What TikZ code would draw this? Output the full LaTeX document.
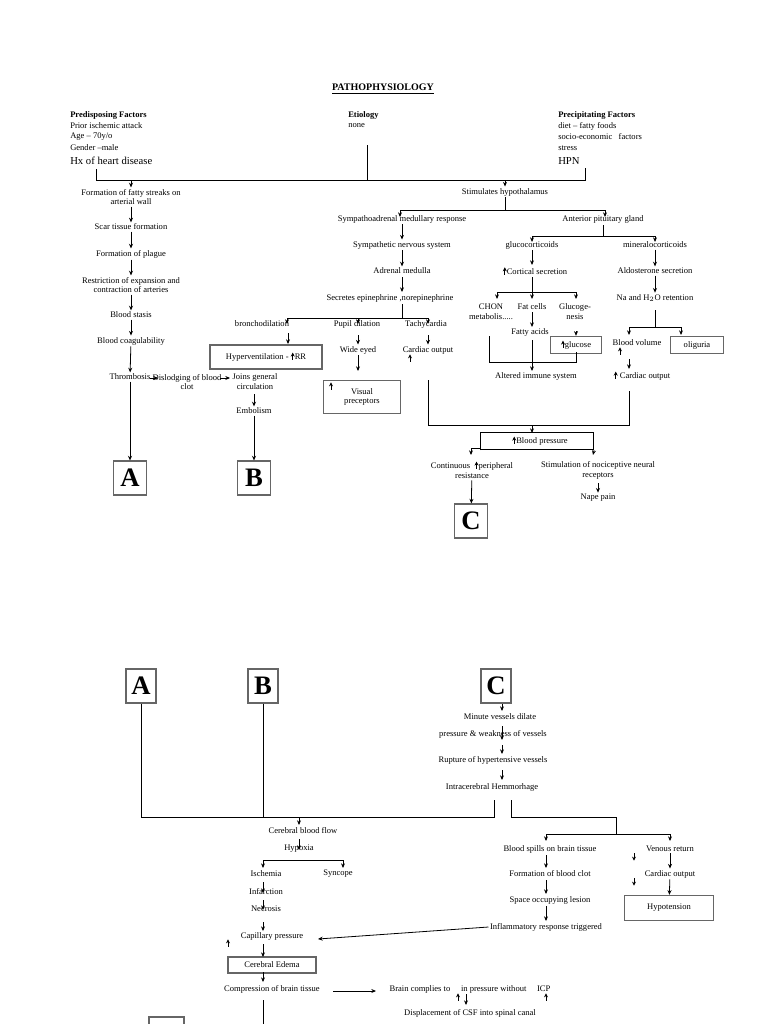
\documentclass[tikz,border=0pt]{standalone}
\usepackage{fontspec}
\setmainfont{Liberation Serif}
\usetikzlibrary{arrows.meta}
\newcommand\upa{\tikz[baseline=0pt]\draw[line width=0.6pt,-{Stealth[length=3pt,width=3pt]}] (0,0)--(0,5.5pt);}
\newcommand\dna{\tikz[baseline=0pt]\draw[line width=0.6pt,-{Stealth[length=3pt,width=3pt]}] (0,5.5pt)--(0,0);}
\begin{document}
\begin{tikzpicture}[x=0.75pt,y=-0.75pt,
  t/.style={font=\fontsize{6.4}{7.4}\selectfont,inner sep=1pt,align=center},
  lt/.style={font=\fontsize{6.4}{7.4}\selectfont,inner sep=0pt,align=left,anchor=west},
  bx/.style={draw=black!60,line width=0.8pt,inner sep=2pt,font=\fontsize{6.4}{7.4}\selectfont,align=center},
  big/.style={draw=black!60,line width=0.8pt,minimum width=33pt*0.75,minimum height=34pt*0.75,inner sep=0pt,font=\fontsize{20}{22}\bfseries\selectfont},
  ln/.style={line width=0.6pt},
  ar/.style={line width=0.6pt,-{Stealth[length=3.5pt,width=3pt]}}]
\useasboundingbox (0,0) rectangle (768,1024);
\fill[white] (0,0) rectangle (768,1024);
% title
\node[font=\fontsize{7.5}{9}\bfseries\selectfont] (title) at (383,89) {\underline{PATHOPHYSIOLOGY}};
% factors
\node[lt,font=\fontsize{6.4}{7.4}\bfseries\selectfont] (pf) at (70,115) {Predisposing Factors};
\node[lt] (pf1) at (70,126) {Prior ischemic attack};
\node[lt] (pf2) at (70,137) {Age -- 70y/o};
\node[lt] (pf3) at (70,148) {Gender --male};
\node[lt,font=\fontsize{8}{9}\selectfont] (pf4) at (70,161) {Hx of heart disease};
\node[lt,font=\fontsize{6.4}{7.4}\bfseries\selectfont] (et) at (348,115) {Etiology};
\node[lt] (et1) at (348,126) {none};
\node[lt,font=\fontsize{6.4}{7.4}\bfseries\selectfont] (pr) at (558,115) {Precipitating Factors};
\node[lt] (pr1) at (558,126) {diet -- fatty foods};
\node[lt] (pr2) at (558,137) {socio-economic \ \ factors};
\node[lt] (pr3) at (558,148) {stress};
\node[lt,font=\fontsize{8}{9}\selectfont] (pr4) at (558,161) {HPN};
\coordinate (j1) at (96,180); \coordinate (j2) at (585,180);
\draw[ln] (96,169) -- (j1) -- (j2) -- (585,168);
\draw[ln] (367,145) -- (367,180);
% left column
\node[t] (fs) at (131,197) {Formation of fatty streaks on\\arterial wall};
\node[t] (st) at (131,227) {Scar tissue formation};
\node[t] (fp) at (131,254) {Formation of plague};
\node[t] (re) at (131,285) {Restriction of expansion and\\contraction of arteries};
\node[t] (bs) at (131,315) {Blood stasis};
\node[t] (bc) at (131,341) {Blood coagulability};
\node[t] (th) at (130,377) {Thrombosis};
\node[t] (dl) at (187,382) {Dislodging of blood\\clot};
\node[t] (jg) at (255,382) {Joins general\\circulation};
\node[t] (em) at (254,411) {Embolism};
\node[big] (A) at (130,478) {A};
\node[big] (B) at (254,478) {B};
\draw[ar] (131,180) -- (fs);
\draw[ar] (fs) -- (st); \draw[ar] (st) -- (fp); \draw[ar] (fp) -- (re);
\draw[ar] (re) -- (bs); \draw[ar] (bs) -- (bc); \draw[ar] (bc) -- (th);
\draw[ar] (150,378) -- (158,378);
\draw[ar] (220,378) -- (230,378);
\draw[ar] (254,394) -- (em);
\draw[ar] (th) -- (A);
\draw[ar] (em) -- (B);
% hypothalamus
\node[t] (hy) at (505,192) {Stimulates hypothalamus};
\draw[ar] (505,180) -- (hy);
\node[t] (sa) at (402,219) {Sympathoadrenal medullary response};
\node[t] (ap) at (603,219) {Anterior pituitary gland};
\draw[ln] (hy) -- (505,210);
\draw[ar] (400,210) -- (400,217);
\draw[ar] (605,210) -- (605,217);
\draw[ln] (400,210) -- (605,210);
\node[t] (sn) at (402,245) {Sympathetic nervous system};
\node[t] (am) at (402,271) {Adrenal medulla};
\node[t] (se) at (390,298) {Secretes epinephrine ,norepinephrine};
\draw[ar] (sa) -- (sn); \draw[ar] (sn) -- (am); \draw[ar] (402,277) -- (402,292);
\draw[ln] (402,304) -- (402,318);
\draw[ln] (287,318) -- (428,318);
\node[t] (br) at (262,324) {bronchodilation};
\node[t] (pu) at (357,324) {Pupil dilation};
\node[t] (ta) at (426,324) {Tachycardia};
\draw[ar] (287,318) -- (287,324); \draw[ar] (358,318) -- (358,324); \draw[ar] (428,318) -- (428,324);
\node[bx,minimum width=84pt,minimum height=18pt] (hv) at (266,357) {Hyperventilation - \upa RR};
\draw[ar] (288,333) -- (288,344);
\node[t] (we) at (358,350) {Wide eyed};
\draw[ar] (358,335) -- (we);
\node[bx,minimum width=58pt,minimum height=25pt] (vp) at (362,397) {Visual\\preceptors};
\node[t] at (331,386) {\upa};
\draw[ar] (we) -- (358,371);
\node[t] (co1) at (428,350) {Cardiac output};
\draw[ar] (428,335) -- (co1);
\node[t] at (410,358) {\upa};
% anterior pituitary
\draw[ln] (603,225) -- (603,236);
\draw[ln] (532,236) -- (655,236);
\draw[ar] (532,236) -- (532,242); \draw[ar] (655,236) -- (655,242);
\node[t] (gl) at (532,245) {glucocorticoids};
\node[t] (mi) at (655,245) {mineralocorticoids};
\node[t] (cs) at (535,271) {\upa Cortical secretion};
\node[t] (as) at (655,271) {Aldosterone secretion};
\node[t] (na) at (655,298) {Na and H$_2$O retention};
\draw[ar] (532,250) -- (532,265); \draw[ar] (mi) -- (as); \draw[ar] (as) -- (na);
\draw[ln] (532,277) -- (532,292);
\draw[ln] (497,292) -- (576,292);
\draw[ar] (497,292) -- (497,299); \draw[ar] (532,292) -- (532,299); \draw[ar] (576,292) -- (576,299);
\node[t] (ch) at (491,312) {CHON\\metabolis.....};
\node[t] (fc) at (532,307) {Fat cells};
\node[t] (gn) at (575,312) {Glucoge-\\nesis};
\node[t] (fa) at (530,332) {Fatty acids};
\draw[ar] (532,312) -- (532,327);
\node[bx,minimum width=38pt,minimum height=13pt] (gc) at (576,345) {\upa glucose};
\draw[ar] (576,331) -- (gc);
\draw[ln] (489,336) -- (489,362) -- (576,362) -- (576,352);
\node[t] (ai) at (536,376) {Altered immune system};
\draw[ln] (532,340) -- (532,362);
\draw[ar] (532,362) -- (532,371);
\draw[ln] (655,310) -- (655,327);
\draw[ln] (629,327) -- (681,327);
\draw[ar] (629,327) -- (629,335); \draw[ar] (681,327) -- (681,335);
\node[t] (bv) at (637,343) {Blood volume};
\node[bx,minimum width=40pt,minimum height=13pt] (ol) at (697,345) {oliguria};
\node[t] at (620,351) {\upa};
\node[t] (co2) at (642,376) {\upa\ Cardiac output};
\draw[ar] (629,359) -- (629,369);
% blood pressure
\draw[ln] (428,380) -- (428,425) -- (629,425) -- (629,391);
\draw[ar] (532,425) -- (532,433);
\node[draw=black,line width=0.6pt,minimum width=85pt,minimum height=13pt,inner sep=0pt] (bp) at (537,441) {};
\node[t] at (540,441) {\upa Blood pressure};
\draw[ar] (bp.south west) -- (bp.south west |- 0,448) -- (471,448) -- (471,455);
\draw[ar] (bp.south east) -- (593,455);
\node[t] (cp) at (472,470) {Continuous \ \upa peripheral\\resistance};
\node[t] (sn2) at (598,470) {Stimulation of nociceptive neural\\receptors};
\node[t] (np) at (598,498) {Nape pain};
\draw[ar] (598,483) -- (np);
\node[big] (C) at (471,521) {C};
\draw[ar] (cp) -- (C);
% ===== bottom =====
\node[big,minimum width=30pt*0.75] (A2) at (141,686) {A};
\node[big,minimum width=30pt*0.75] (B2) at (263,686) {B};
\node[big,minimum width=30pt*0.75] (C2) at (496,686) {C};
\node[t] (mv) at (500,717) {Minute vessels dilate};
\node[t] (pw) at (493,734) {pressure \& weakness of vessels};
\node[t] (ru) at (493,760) {Rupture of hypertensive vessels};
\node[t] (ih) at (492,787) {Intracerebral Hemmorhage};
\draw[ar] (502,704) -- (502,711); \draw[ar] (502,726) -- (502,740); \draw[ar] (502,745) -- (502,754); \draw[ar] (502,770) -- (502,780);
\draw[ln] (A2) -- (141,817) -- (494,817) -- (494,800);
\draw[ln] (B2) -- (263,817);
\draw[ar] (299,817) -- (299,825);
\node[t] (cb) at (303,831) {Cerebral blood flow};
\node[t] (hx) at (299,849) {Hypoxia};
\draw[ar] (299,839) -- (299,850);
\draw[ln] (263,860) -- (343,860);
\draw[ar] (263,860) -- (263,868); \draw[ar] (343,860) -- (343,868);
\node[t] (is) at (266,874) {Ischemia};
\node[t] (sy) at (338,874) {Syncope};
\node[t] (inf) at (266,892) {Infarction};
\node[t] (ne) at (266,909) {Necrosis};
\draw[ar] (263,882) -- (263,893); \draw[ar] (263,900) -- (263,910);
\node[t] (ca) at (272,936) {Capillary pressure};
\node[t] at (228,943) {\upa};
\draw[ar] (263,922) -- (263,931);
\node[bx,minimum width=66pt,minimum height=12pt] (ce) at (272,965) {Cerebral Edema};
\draw[ar] (263,944) -- (263,957);
\node[t] (cm) at (272,989) {Compression of brain tissue};
\draw[ar] (263,972) -- (263,982);
\node[t] (bcmp) at (470,989) {Brain complies to \quad in pressure without \quad ICP};
\node[t] at (458,997) {\upa}; \node[t] at (546,997) {\upa};
\draw[ar] (333,991) -- (376,991);
\node[t] (dc) at (470,1013) {Displacement of CSF into spinal canal};
\draw[ar] (466,994) -- (466,1005);
\draw[ln] (263,1000) -- (263,1024);
\draw[draw=black!60,line width=0.8pt] (149,1030) -- (149,1017) -- (184,1017) -- (184,1030);
% right branch
\draw[ln] (511,800) -- (511,817) -- (616,817) -- (616,834);
\draw[ln] (546,834) -- (670,834);
\draw[ar] (546,834) -- (546,841); \draw[ar] (670,834) -- (670,841);
\node[t] (bl) at (550,849) {Blood spills on brain tissue};
\node[t] (vr) at (670,849) {Venous return};
\node[t] at (634,857) {\dna};
\node[t] (fb) at (550,874) {Formation of blood clot};
\node[t] (so) at (550,900) {Space occupying lesion};
\node[t] (ir) at (546,927) {Inflammatory response triggered};
\draw[ar] (546,855) -- (546,868); \draw[ar] (546,880) -- (546,894); \draw[ar] (546,906) -- (546,921);
\node[t] (co3) at (670,874) {Cardiac output};
\node[t] at (634,882) {\dna};
\draw[ar] (vr) -- (co3);
\node[bx,minimum width=67pt,minimum height=19pt] (hp) at (669,908) {Hypotension};
\draw[ar] (co3) -- (hp);
\draw[ar] (ir.west) -- (318,939);
\end{tikzpicture}
\end{document}
